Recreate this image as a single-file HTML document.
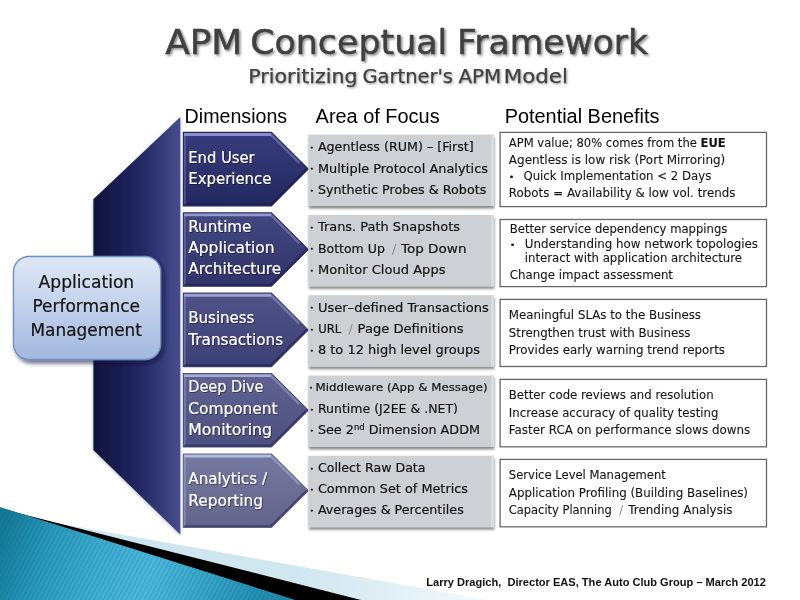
<!DOCTYPE html>
<html lang="en"><head><meta charset="utf-8"><title>APM Conceptual Framework</title>
<style>
html,body{margin:0;padding:0;background:#fff;}
body{width:800px;height:600px;overflow:hidden;position:relative;}
svg{position:absolute;left:0;top:0;display:block;}
text{font-family:"DejaVu Sans","Liberation Sans",sans-serif;white-space:pre;}
.ar{font-family:"Liberation Sans","DejaVu Sans",sans-serif;}
.title{font-size:34.5px;fill:#404040;stroke:#404040;stroke-width:0.5px;}
.sub{font-size:19.8px;fill:#404040;stroke:#404040;stroke-width:0.25px;}
.hd{font-size:19.5px;fill:#000;}
.apm{font-size:16.8px;fill:#141414;stroke:#141414;stroke-width:0.22px;text-anchor:middle;}
.chev{font-size:15px;fill:#fff;stroke:#fff;stroke-width:0.12px;}
.foc{font-size:12.75px;fill:#111;stroke:#111;stroke-width:0.18px;}
.ben{font-size:11.75px;fill:#151515;stroke:#151515;stroke-width:0.1px;}
.foot{font-size:11.04px;font-weight:bold;fill:#111;}
</style></head><body>
<svg width="800" height="600" viewBox="0 0 800 600" style="opacity:0.999">
<defs>
<linearGradient id="gArrow" x1="0" y1="0" x2="1" y2="0">
<stop offset="0" stop-color="#0f133b"/><stop offset="0.3" stop-color="#191e52"/><stop offset="0.55" stop-color="#232963"/><stop offset="0.8" stop-color="#363c7a"/><stop offset="1" stop-color="#474d8d"/>
</linearGradient>
<linearGradient id="gApm" x1="0" y1="0" x2="0" y2="1">
<stop offset="0" stop-color="#dfe8f6"/><stop offset="1" stop-color="#a3b8df"/>
</linearGradient>
<linearGradient id="gTeal" gradientUnits="userSpaceOnUse" x1="0" y1="540" x2="310" y2="640">
<stop offset="0" stop-color="#157a98"/><stop offset="0.15" stop-color="#2a9abd"/><stop offset="0.31" stop-color="#3fadd2"/><stop offset="0.47" stop-color="#4db8dd"/><stop offset="0.62" stop-color="#3ba8cc"/><stop offset="0.78" stop-color="#2592b5"/><stop offset="1" stop-color="#1a7f9e"/>
</linearGradient>
<linearGradient id="gLight" gradientUnits="userSpaceOnUse" x1="0" y1="0" x2="480" y2="0">
<stop offset="0" stop-color="#dcedf4"/><stop offset="0.3" stop-color="#cde5ef"/><stop offset="0.62" stop-color="#d1e7f0"/><stop offset="0.8" stop-color="#dfeef4"/><stop offset="1" stop-color="#f5fafc"/>
</linearGradient>
<pattern id="stripes" width="4" height="4" patternUnits="userSpaceOnUse" patternTransform="rotate(-62)">
<rect x="0" y="0" width="4" height="1.6" fill="#0b5f7a" fill-opacity="0.2"/>
</pattern>
<filter id="fTitle" x="-5%" y="-20%" width="110%" height="150%"><feDropShadow dx="1.6" dy="1.6" stdDeviation="1.1" flood-color="#000" flood-opacity="0.45"/></filter>
<filter id="fSub" x="-5%" y="-20%" width="110%" height="150%"><feDropShadow dx="1" dy="1" stdDeviation="0.8" flood-color="#000" flood-opacity="0.4"/></filter>
<filter id="fChevT" x="-5%" y="-20%" width="110%" height="150%"><feDropShadow dx="0.8" dy="0.8" stdDeviation="0.7" flood-color="#000" flood-opacity="0.5"/></filter>
<filter id="fBox" x="-10%" y="-10%" width="125%" height="130%"><feDropShadow dx="0.6" dy="2.6" stdDeviation="1.25" flood-color="#000" flood-opacity="0.45"/></filter>
<filter id="fApm" x="-10%" y="-10%" width="125%" height="130%"><feDropShadow dx="2.5" dy="3" stdDeviation="2" flood-color="#0a0f3a" flood-opacity="0.65"/></filter>
<filter id="fArrow" x="-10%" y="-5%" width="120%" height="110%"><feDropShadow dx="0" dy="1" stdDeviation="1.5" flood-color="#000" flood-opacity="0.3"/></filter>
<filter id="blur1" filterUnits="userSpaceOnUse" x="0" y="0" width="800" height="600"><feGaussianBlur stdDeviation="0.7"/></filter>

<linearGradient id="gC0" x1="0" y1="0" x2="0" y2="1"><stop offset="0" stop-color="#383c7d"/><stop offset="1" stop-color="#24285f"/></linearGradient>
<linearGradient id="gC1" x1="0" y1="0" x2="0" y2="1"><stop offset="0" stop-color="#434780"/><stop offset="1" stop-color="#30346a"/></linearGradient>
<linearGradient id="gC2" x1="0" y1="0" x2="0" y2="1"><stop offset="0" stop-color="#505388"/><stop offset="1" stop-color="#3d4075"/></linearGradient>
<linearGradient id="gC3" x1="0" y1="0" x2="0" y2="1"><stop offset="0" stop-color="#606291"/><stop offset="1" stop-color="#4d4f80"/></linearGradient>
<linearGradient id="gC4" x1="0" y1="0" x2="0" y2="1"><stop offset="0" stop-color="#76789f"/><stop offset="1" stop-color="#62648c"/></linearGradient>
</defs>
<polygon points="0,513 489,600 0,600" fill="url(#gLight)"/>
<polygon points="0,508.4 361,600 0,600" fill="#000"/>
<polygon points="0,507 295.5,600 0,600" fill="url(#gTeal)"/>
<polygon points="0,507 295.5,600 0,600" fill="url(#stripes)"/>
<polygon points="180.3,117 93.4,199.3 93.4,450 180.3,534.6" fill="url(#gArrow)" filter="url(#fArrow)"/>
<rect x="13.5" y="256.5" width="147.2" height="103" rx="15.5" ry="15.5" fill="url(#gApm)" stroke="#6f8cc4" stroke-width="1.3" filter="url(#fApm)"/>
<clipPath id="cp0"><polygon points="183.4,132.4 271.4,132.4 308.2,169.10000000000002 271.4,205.8 183.4,205.8"/></clipPath>
<polygon points="183.4,132.4 271.4,132.4 308.2,169.10000000000002 271.4,205.8 183.4,205.8" fill="url(#gC0)"/>
<g clip-path="url(#cp0)">
<polyline points="183.4,134.3 271.09999999999997,134.3" fill="none" stroke="#8a8dcc" stroke-width="3.2" stroke-opacity="1" filter="url(#blur1)"/>
<polyline points="270.59999999999997,134.0 299.5,162.8" fill="none" stroke="#8a8dcc" stroke-width="2.6" stroke-opacity="0.5" filter="url(#blur1)"/>
<polyline points="184.9,205.8 184.9,132.4" fill="none" stroke="#8a8dcc" stroke-width="1.8" stroke-opacity="0.38" filter="url(#blur1)"/>
<polyline points="183.4,205.8 271.4,205.8 308.2,169.10000000000002" fill="none" stroke="#15183f" stroke-width="4.5" stroke-opacity="0.5" filter="url(#blur1)"/>
</g>
<polygon points="183.4,132.4 271.4,132.4 308.2,169.10000000000002 271.4,205.8 183.4,205.8" fill="none" stroke="#24285f" stroke-width="1.2" stroke-opacity="1"/>
<clipPath id="cp1"><polygon points="183.4,212.8 271.4,212.8 308.2,249.5 271.4,286.20000000000005 183.4,286.20000000000005"/></clipPath>
<polygon points="183.4,212.8 271.4,212.8 308.2,249.5 271.4,286.20000000000005 183.4,286.20000000000005" fill="url(#gC1)"/>
<g clip-path="url(#cp1)">
<polyline points="183.4,214.70000000000002 271.09999999999997,214.70000000000002" fill="none" stroke="#9396cf" stroke-width="3.2" stroke-opacity="1" filter="url(#blur1)"/>
<polyline points="270.59999999999997,214.4 299.5,243.2" fill="none" stroke="#9396cf" stroke-width="2.6" stroke-opacity="0.5" filter="url(#blur1)"/>
<polyline points="184.9,286.20000000000005 184.9,212.8" fill="none" stroke="#9396cf" stroke-width="1.8" stroke-opacity="0.38" filter="url(#blur1)"/>
<polyline points="183.4,286.20000000000005 271.4,286.20000000000005 308.2,249.5" fill="none" stroke="#15183f" stroke-width="4.5" stroke-opacity="0.5" filter="url(#blur1)"/>
</g>
<polygon points="183.4,212.8 271.4,212.8 308.2,249.5 271.4,286.20000000000005 183.4,286.20000000000005" fill="none" stroke="#30346a" stroke-width="1.2" stroke-opacity="1"/>
<clipPath id="cp2"><polygon points="183.4,293.2 271.4,293.2 308.2,329.9 271.4,366.6 183.4,366.6"/></clipPath>
<polygon points="183.4,293.2 271.4,293.2 308.2,329.9 271.4,366.6 183.4,366.6" fill="url(#gC2)"/>
<g clip-path="url(#cp2)">
<polyline points="183.4,295.09999999999997 271.09999999999997,295.09999999999997" fill="none" stroke="#9ea0d2" stroke-width="3.2" stroke-opacity="1" filter="url(#blur1)"/>
<polyline points="270.59999999999997,294.8 299.5,323.6" fill="none" stroke="#9ea0d2" stroke-width="2.6" stroke-opacity="0.5" filter="url(#blur1)"/>
<polyline points="184.9,366.6 184.9,293.2" fill="none" stroke="#9ea0d2" stroke-width="1.8" stroke-opacity="0.38" filter="url(#blur1)"/>
<polyline points="183.4,366.6 271.4,366.6 308.2,329.9" fill="none" stroke="#15183f" stroke-width="4.5" stroke-opacity="0.5" filter="url(#blur1)"/>
</g>
<polygon points="183.4,293.2 271.4,293.2 308.2,329.9 271.4,366.6 183.4,366.6" fill="none" stroke="#3d4075" stroke-width="1.2" stroke-opacity="1"/>
<clipPath id="cp3"><polygon points="183.4,373.6 271.4,373.6 308.2,410.3 271.4,447.0 183.4,447.0"/></clipPath>
<polygon points="183.4,373.6 271.4,373.6 308.2,410.3 271.4,447.0 183.4,447.0" fill="url(#gC3)"/>
<g clip-path="url(#cp3)">
<polyline points="183.4,375.5 271.09999999999997,375.5" fill="none" stroke="#a8aad6" stroke-width="3.2" stroke-opacity="1" filter="url(#blur1)"/>
<polyline points="270.59999999999997,375.20000000000005 299.5,404.0" fill="none" stroke="#a8aad6" stroke-width="2.6" stroke-opacity="0.5" filter="url(#blur1)"/>
<polyline points="184.9,447.0 184.9,373.6" fill="none" stroke="#a8aad6" stroke-width="1.8" stroke-opacity="0.38" filter="url(#blur1)"/>
<polyline points="183.4,447.0 271.4,447.0 308.2,410.3" fill="none" stroke="#15183f" stroke-width="4.5" stroke-opacity="0.5" filter="url(#blur1)"/>
</g>
<polygon points="183.4,373.6 271.4,373.6 308.2,410.3 271.4,447.0 183.4,447.0" fill="none" stroke="#4d4f80" stroke-width="1.2" stroke-opacity="1"/>
<clipPath id="cp4"><polygon points="183.4,454.0 271.4,454.0 308.2,490.7 271.4,527.4 183.4,527.4"/></clipPath>
<polygon points="183.4,454.0 271.4,454.0 308.2,490.7 271.4,527.4 183.4,527.4" fill="url(#gC4)"/>
<g clip-path="url(#cp4)">
<polyline points="183.4,455.9 271.09999999999997,455.9" fill="none" stroke="#b6b8dc" stroke-width="3.2" stroke-opacity="1" filter="url(#blur1)"/>
<polyline points="270.59999999999997,455.6 299.5,484.4" fill="none" stroke="#b6b8dc" stroke-width="2.6" stroke-opacity="0.5" filter="url(#blur1)"/>
<polyline points="184.9,527.4 184.9,454.0" fill="none" stroke="#b6b8dc" stroke-width="1.8" stroke-opacity="0.38" filter="url(#blur1)"/>
<polyline points="183.4,527.4 271.4,527.4 308.2,490.7" fill="none" stroke="#15183f" stroke-width="4.5" stroke-opacity="0.5" filter="url(#blur1)"/>
</g>
<polygon points="183.4,454.0 271.4,454.0 308.2,490.7 271.4,527.4 183.4,527.4" fill="none" stroke="#62648c" stroke-width="1.2" stroke-opacity="1"/>
<rect x="308.3" y="134.6" width="185.4" height="71.4" fill="#cdd0d5" filter="url(#fBox)"/>
<rect x="491.3" y="134.6" width="2.4" height="71.4" fill="#dcdee1"/>
<rect x="308.3" y="214.9" width="185.4" height="71.4" fill="#cdd0d5" filter="url(#fBox)"/>
<rect x="491.3" y="214.9" width="2.4" height="71.4" fill="#dcdee1"/>
<rect x="308.3" y="295.2" width="185.4" height="71.4" fill="#cdd0d5" filter="url(#fBox)"/>
<rect x="491.3" y="295.2" width="2.4" height="71.4" fill="#dcdee1"/>
<rect x="308.3" y="375.5" width="185.4" height="71.4" fill="#cdd0d5" filter="url(#fBox)"/>
<rect x="491.3" y="375.5" width="2.4" height="71.4" fill="#dcdee1"/>
<rect x="308.3" y="455.7" width="185.4" height="71.4" fill="#cdd0d5" filter="url(#fBox)"/>
<rect x="491.3" y="455.7" width="2.4" height="71.4" fill="#dcdee1"/>
<rect x="500.1" y="132.4" width="266.4" height="74.2" fill="#fff" stroke="#676767" stroke-width="1.3"/>
<rect x="500.1" y="219.5" width="266.4" height="67.1" fill="#fff" stroke="#676767" stroke-width="1.3"/>
<rect x="500.1" y="299.4" width="266.4" height="67.1" fill="#fff" stroke="#676767" stroke-width="1.3"/>
<rect x="500.1" y="379.4" width="266.4" height="67.4" fill="#fff" stroke="#676767" stroke-width="1.3"/>
<rect x="500.1" y="459.4" width="266.4" height="67.4" fill="#fff" stroke="#676767" stroke-width="1.3"/>
<text class="title" y="54.3" filter="url(#fTitle)"><tspan x="165.2" textLength="77" lengthAdjust="spacingAndGlyphs">APM</tspan> <tspan x="250.2" textLength="197.1" lengthAdjust="spacingAndGlyphs">Conceptual</tspan> <tspan x="457" textLength="190.9" lengthAdjust="spacingAndGlyphs">Framework</tspan></text>
<text class="sub" y="83" filter="url(#fSub)"><tspan x="248.3" textLength="109.3" lengthAdjust="spacingAndGlyphs">Prioritizing</tspan> <tspan x="362.5" textLength="90.5" lengthAdjust="spacingAndGlyphs">Gartner's</tspan> <tspan x="458.5" textLength="42.8" lengthAdjust="spacingAndGlyphs">APM</tspan> <tspan x="503.7" textLength="64.2" lengthAdjust="spacingAndGlyphs">Model</tspan></text>
<text class="hd ar" x="184.6" y="123" textLength="102.6" lengthAdjust="spacingAndGlyphs">Dimensions</text>
<text class="hd ar" x="315.6" y="123" textLength="124" lengthAdjust="spacingAndGlyphs">Area of Focus</text>
<text class="hd ar" x="504.7" y="123" textLength="154.8" lengthAdjust="spacingAndGlyphs">Potential Benefits</text>
<text class="apm" x="86.4" y="287.7" textLength="95.6" lengthAdjust="spacingAndGlyphs">Application</text>
<text class="apm" x="86.2" y="311.6" textLength="107.6" lengthAdjust="spacingAndGlyphs">Performance</text>
<text class="apm" x="86.2" y="335.6" textLength="111.4" lengthAdjust="spacingAndGlyphs">Management</text>
<g filter="url(#fChevT)">
<text class="chev" x="188.3" y="162.50" textLength="66.2" lengthAdjust="spacingAndGlyphs">End User</text>
<text class="chev" x="188.3" y="183.90" textLength="83.1" lengthAdjust="spacingAndGlyphs">Experience</text>
</g>
<g filter="url(#fChevT)">
<text class="chev" x="188.3" y="231.50" textLength="63.0" lengthAdjust="spacingAndGlyphs">Runtime</text>
<text class="chev" x="188.3" y="252.90" textLength="86.1" lengthAdjust="spacingAndGlyphs">Application</text>
<text class="chev" x="188.3" y="274.30" textLength="92.7" lengthAdjust="spacingAndGlyphs">Architecture</text>
</g>
<g filter="url(#fChevT)">
<text class="chev" x="188.3" y="323.30" textLength="66.1" lengthAdjust="spacingAndGlyphs">Business</text>
<text class="chev" x="188.3" y="344.70" textLength="94.8" lengthAdjust="spacingAndGlyphs">Transactions</text>
</g>
<g filter="url(#fChevT)">
<text class="chev" x="188.3" y="392.30" textLength="75.2" lengthAdjust="spacingAndGlyphs">Deep Dive</text>
<text class="chev" x="188.3" y="413.70" textLength="89.2" lengthAdjust="spacingAndGlyphs">Component</text>
<text class="chev" x="188.3" y="435.10" textLength="83.6" lengthAdjust="spacingAndGlyphs">Monitoring</text>
</g>
<g filter="url(#fChevT)">
<text class="chev" x="188.3" y="484.10" textLength="78.7" lengthAdjust="spacingAndGlyphs">Analytics /</text>
<text class="chev" x="188.3" y="505.50" textLength="74.7" lengthAdjust="spacingAndGlyphs">Reporting</text>
</g>
<text class="foc" style="font-size:6.2px" x="310.07" y="150.12">•</text>
<text class="foc" x="317.9" y="151.30" textLength="155.9" lengthAdjust="spacingAndGlyphs">Agentless (RUM) – [First]</text>
<text class="foc" style="font-size:6.2px" x="310.07" y="171.37">•</text>
<text class="foc" x="317.9" y="172.55" textLength="170.1" lengthAdjust="spacingAndGlyphs">Multiple Protocol Analytics</text>
<text class="foc" style="font-size:6.2px" x="310.07" y="192.62">•</text>
<text class="foc" x="317.9" y="193.80" textLength="168.4" lengthAdjust="spacingAndGlyphs">Synthetic Probes &amp; Robots</text>
<text class="foc" style="font-size:6.2px" x="310.07" y="230.22">•</text>
<text class="foc" x="317.9" y="231.40" textLength="142.1" lengthAdjust="spacingAndGlyphs">Trans. Path Snapshots</text>
<text class="foc" style="font-size:6.2px" x="310.07" y="251.47">•</text>
<text class="foc" style="" x="317.9" y="252.65" textLength="67.0" lengthAdjust="spacingAndGlyphs">Bottom Up</text>
<text class="foc" style="fill:#8a8a8a;stroke:none" x="392.05" y="252.65">/</text>
<text class="foc" style="" x="400.9" y="252.65" textLength="65.7" lengthAdjust="spacingAndGlyphs">Top Down</text>
<text class="foc" style="font-size:6.2px" x="310.07" y="272.72">•</text>
<text class="foc" x="317.9" y="273.90" textLength="127.6" lengthAdjust="spacingAndGlyphs">Monitor Cloud Apps</text>
<text class="foc" style="font-size:6.2px" x="310.07" y="310.32">•</text>
<text class="foc" x="317.9" y="311.50" textLength="170.9" lengthAdjust="spacingAndGlyphs">User–defined Transactions</text>
<text class="foc" style="font-size:6.2px" x="310.07" y="331.57">•</text>
<text class="foc" style="" x="318.2" y="332.75" textLength="23.0" lengthAdjust="spacingAndGlyphs">URL</text>
<text class="foc" style="fill:#8a8a8a;stroke:none" x="348.40" y="332.75">/</text>
<text class="foc" style="" x="357.6" y="332.75" textLength="106.0" lengthAdjust="spacingAndGlyphs">Page Definitions</text>
<text class="foc" style="font-size:6.2px" x="310.07" y="352.82">•</text>
<text class="foc" x="317.9" y="354.00" textLength="162.1" lengthAdjust="spacingAndGlyphs">8 to 12 high level groups</text>
<text class="foc" style="font-size:6.2px" x="309.37" y="390.22">•</text>
<text class="foc" style="font-size:11.35px" x="315.6" y="391.20" textLength="171.9" lengthAdjust="spacingAndGlyphs">Middleware (App &amp; Message)</text>
<text class="foc" style="font-size:6.2px" x="310.07" y="411.67">•</text>
<text class="foc" x="317.9" y="412.85" textLength="140.1" lengthAdjust="spacingAndGlyphs">Runtime (J2EE &amp; .NET)</text>
<text class="foc" style="font-size:6.2px" x="310.07" y="432.92">•</text>
<text class="foc" x="317.9" y="434.10" textLength="162.1" lengthAdjust="spacingAndGlyphs">See 2<tspan font-size="8.5" dy="-4.2">nd</tspan><tspan dy="4.2"> Dimension ADDM</tspan></text>
<text class="foc" style="font-size:6.2px" x="310.07" y="470.52">•</text>
<text class="foc" x="317.9" y="471.70" textLength="107.6" lengthAdjust="spacingAndGlyphs">Collect Raw Data</text>
<text class="foc" style="font-size:6.2px" x="310.07" y="491.77">•</text>
<text class="foc" x="317.9" y="492.95" textLength="150.1" lengthAdjust="spacingAndGlyphs">Common Set of Metrics</text>
<text class="foc" style="font-size:6.2px" x="310.07" y="513.02">•</text>
<text class="foc" x="317.9" y="514.20" textLength="145.9" lengthAdjust="spacingAndGlyphs">Averages &amp; Percentiles</text>
<text class="ben" x="508.8" y="147.1" textLength="216.9" lengthAdjust="spacingAndGlyphs">APM value; 80% comes from the <tspan font-weight="bold">EUE</tspan></text>
<text class="ben" x="508.8" y="164.4" textLength="216.5" lengthAdjust="spacingAndGlyphs">Agentless is low risk (Port Mirroring)</text>
<text class="ben" style="font-size:9.5px" x="508.8" y="179.7">•</text>
<text class="ben" x="523.4" y="179.7" textLength="187.9" lengthAdjust="spacingAndGlyphs">Quick Implementation &lt; 2 Days</text>
<text class="ben" x="508.8" y="197.2" textLength="226.7" lengthAdjust="spacingAndGlyphs">Robots = Availability &amp; low vol. trends</text>
<text class="ben" x="509.8" y="232.7" textLength="217.6" lengthAdjust="spacingAndGlyphs">Better service dependency mappings</text>
<text class="ben" style="font-size:9.5px" x="509.8" y="247.6">•</text>
<text class="ben" x="524.8" y="247.6" textLength="233.2" lengthAdjust="spacingAndGlyphs">Understanding how network topologies</text>
<text class="ben" x="524.8" y="261.7" textLength="217.2" lengthAdjust="spacingAndGlyphs">interact with application architecture</text>
<text class="ben" x="509.8" y="278.5" textLength="163.2" lengthAdjust="spacingAndGlyphs">Change impact assessment</text>
<text class="ben" x="508.8" y="319.0" textLength="192.2" lengthAdjust="spacingAndGlyphs">Meaningful SLAs to the Business</text>
<text class="ben" x="508.8" y="336.6" textLength="181.7" lengthAdjust="spacingAndGlyphs">Strengthen trust with Business</text>
<text class="ben" x="508.8" y="354.3" textLength="216.2" lengthAdjust="spacingAndGlyphs">Provides early warning trend reports</text>
<text class="ben" x="508.8" y="399.0" textLength="204.9" lengthAdjust="spacingAndGlyphs">Better code reviews and resolution</text>
<text class="ben" x="508.8" y="416.6" textLength="209.6" lengthAdjust="spacingAndGlyphs">Increase accuracy of quality testing</text>
<text class="ben" x="508.8" y="434.3" textLength="241.5" lengthAdjust="spacingAndGlyphs">Faster RCA on performance slows downs</text>
<text class="ben" x="508.8" y="479.0" textLength="157.0" lengthAdjust="spacingAndGlyphs">Service Level Management</text>
<text class="ben" x="508.8" y="496.6" textLength="239.2" lengthAdjust="spacingAndGlyphs">Application Profiling (Building Baselines)</text>
<text class="ben" x="508.8" y="514.3" textLength="103.0" lengthAdjust="spacingAndGlyphs">Capacity Planning</text>
<text class="ben" x="619.3" y="514.3" textLength="4.0" lengthAdjust="spacingAndGlyphs"><tspan fill="#8a8a8a" stroke="none">/</tspan></text>
<text class="ben" x="628.2" y="514.3" textLength="104.3" lengthAdjust="spacingAndGlyphs">Trending Analysis</text>
<text class="foot ar" x="426.3" y="585.6" textLength="339.6" lengthAdjust="spacingAndGlyphs">Larry Dragich,  Director EAS, The Auto Club Group – March 2012</text>
</svg></body></html>
